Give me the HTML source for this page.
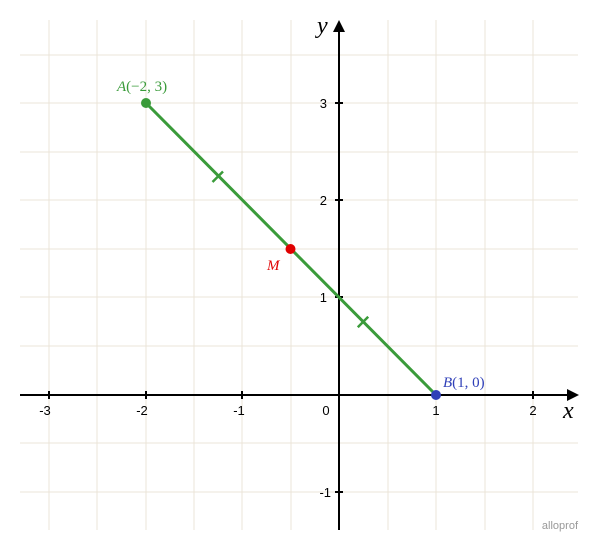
<!DOCTYPE html>
<html><head><style>body{margin:0;background:#fff}svg{display:block}</style></head><body>
<svg width="600" height="549" xmlns="http://www.w3.org/2000/svg">
<g stroke="#ebe4d8" stroke-width="1">
<line x1="49" y1="20" x2="49" y2="530"/><line x1="97" y1="20" x2="97" y2="530"/><line x1="146" y1="20" x2="146" y2="530"/><line x1="194" y1="20" x2="194" y2="530"/><line x1="242" y1="20" x2="242" y2="530"/><line x1="291" y1="20" x2="291" y2="530"/><line x1="388" y1="20" x2="388" y2="530"/><line x1="436" y1="20" x2="436" y2="530"/><line x1="485" y1="20" x2="485" y2="530"/><line x1="533" y1="20" x2="533" y2="530"/>
<line x1="20" y1="55" x2="578" y2="55"/><line x1="20" y1="103" x2="578" y2="103"/><line x1="20" y1="152" x2="578" y2="152"/><line x1="20" y1="200" x2="578" y2="200"/><line x1="20" y1="249" x2="578" y2="249"/><line x1="20" y1="297" x2="578" y2="297"/><line x1="20" y1="346" x2="578" y2="346"/><line x1="20" y1="443" x2="578" y2="443"/><line x1="20" y1="492" x2="578" y2="492"/>
</g>
<g stroke="#000" stroke-width="2">
<line x1="20" y1="395" x2="570" y2="395"/><line x1="339" y1="530" x2="339" y2="28"/>
<line x1="49" y1="391" x2="49" y2="399"/><line x1="146" y1="391" x2="146" y2="399"/><line x1="242" y1="391" x2="242" y2="399"/><line x1="436" y1="391" x2="436" y2="399"/><line x1="533" y1="391" x2="533" y2="399"/>
<line x1="335" y1="103" x2="343" y2="103"/><line x1="335" y1="200" x2="343" y2="200"/><line x1="335" y1="297" x2="343" y2="297"/><line x1="335" y1="492" x2="343" y2="492"/>
</g>
<polygon points="579,395 567,389 567,401" fill="#000"/>
<polygon points="339,20 333,32 345,32" fill="#000"/>
<g font-family="Liberation Sans, sans-serif" font-size="13" fill="#000" text-anchor="middle">
<text x="45" y="415">-3</text><text x="142" y="415">-2</text><text x="239" y="415">-1</text><text x="326" y="415">0</text><text x="436" y="415">1</text><text x="533" y="415">2</text>
<text x="327" y="108" text-anchor="end">3</text><text x="327" y="205" text-anchor="end">2</text><text x="327" y="302" text-anchor="end">1</text><text x="331" y="497" text-anchor="end">-1</text>
</g>
<g font-family="Liberation Serif, serif" font-style="italic" font-size="24" fill="#000">
<text x="317" y="33">y</text><text x="563" y="418">x</text>
</g>
<line x1="146" y1="103" x2="436" y2="395" stroke="#3a9b3a" stroke-width="3"/>
<g stroke="#3a9b3a" stroke-width="2.5">
<line x1="212.5" y1="182" x2="223" y2="171.5"/><line x1="357.8" y1="327.2" x2="368.2" y2="316.8"/>
</g>
<circle cx="146" cy="103" r="5" fill="#3a9b3a"/>
<circle cx="290.5" cy="249" r="5" fill="#e00000"/>
<circle cx="436" cy="395" r="5" fill="#3040b8"/>
<g font-family="Liberation Serif, serif" font-size="15">
<text x="117" y="91" fill="#3a9b3a"><tspan font-style="italic">A</tspan>(−2, 3)</text>
<text x="443" y="387" fill="#3040b8"><tspan font-style="italic">B</tspan>(1, 0)</text>
<text x="267" y="270" fill="#e00000" font-style="italic">M</text>
</g>
<text x="578" y="529" font-family="Liberation Sans, sans-serif" font-size="11" fill="#999" text-anchor="end">alloprof</text>
</svg>
</body></html>
